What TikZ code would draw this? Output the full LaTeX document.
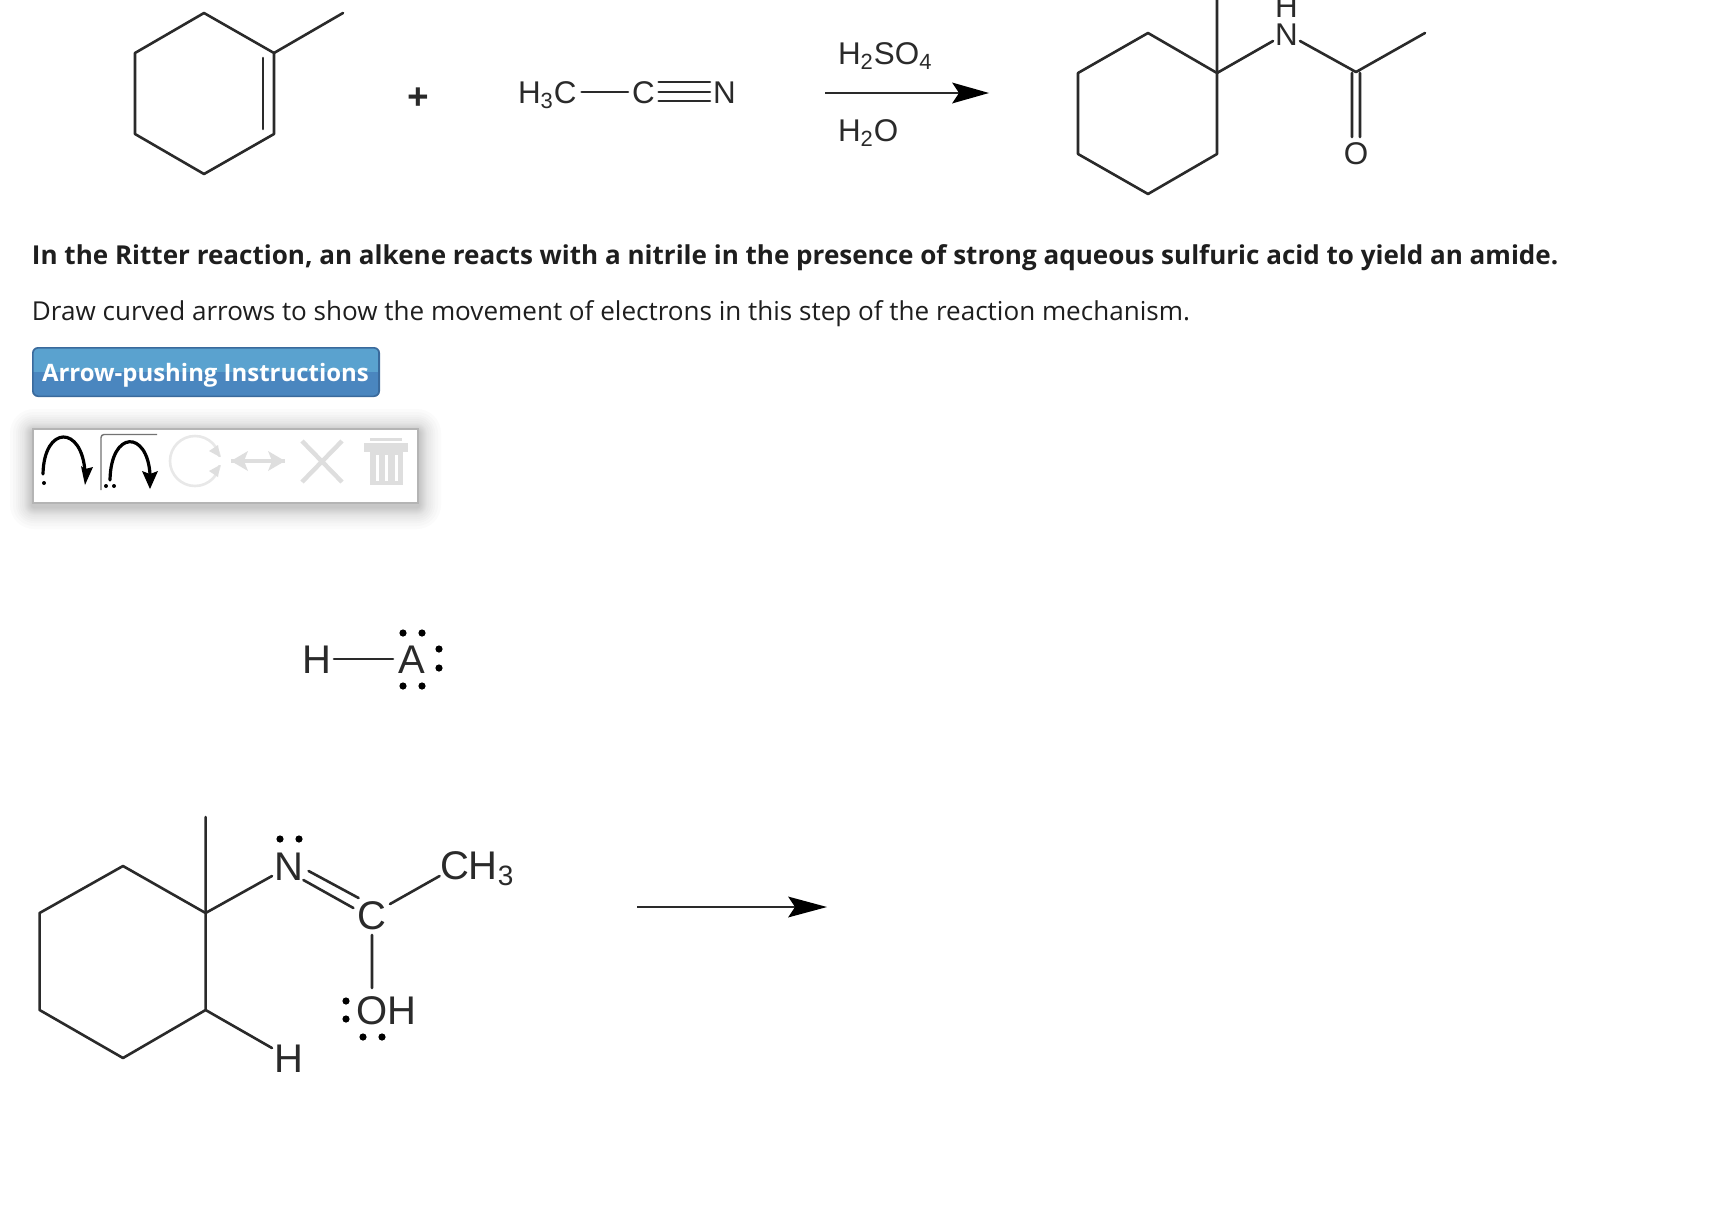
\documentclass[tikz,border=0pt]{standalone}
\usepackage{fontspec}
\setmainfont{Open Sans}
\newfontfamily\chemfont{Liberation Sans}
\usetikzlibrary{arrows.meta,calc}
\definecolor{ink}{HTML}{2A2A2A}
\definecolor{bodyink}{HTML}{1E1E1E}
\definecolor{btnTop}{HTML}{5AA2CF}
\definecolor{btnBot}{HTML}{4A86BF}
\definecolor{btnEdge}{HTML}{3A6A9C}
\definecolor{tbEdge}{HTML}{B4B4B4}
\definecolor{iconGrey}{HTML}{DEDEDE}
\tikzset{
  x=0.5pt,y=-0.5pt,
  bond/.style={draw=ink,line width=1.3pt,line cap=round,line join=round},
  chem/.style={inner sep=0pt,outer sep=0pt,text=ink,anchor=base west,font=\chemfont\fontsize{15.7}{16}\selectfont},
  chembig/.style={chem,font=\chemfont\fontsize{20}{20}\selectfont},
  lpdot/.style={fill=black,draw=none,circle,minimum size=3.6pt,inner sep=0pt},
  rxnarrow/.style={draw=ink,line width=1.4pt},
  body/.style={inner sep=0pt,outer sep=0pt,anchor=base west,text=bodyink},
  icon/.style={draw=black,line width=1.6pt,line cap=round},
  ghost/.style={draw=iconGrey,line width=2pt},
}
\newcommand{\headat}[3]{\fill[black] (#1+#3,#2) -- (#1,#2-10.5) -- (#1+7,#2) -- (#1,#2+10.5) -- cycle;}
\begin{document}
\begin{tikzpicture}
\useasboundingbox (0,0) rectangle (1728,1210);
\fill[white] (0,0) rectangle (1728,1210);

% --- alkene
\foreach \n/\px/\py in {a1/204/13,a2/274/53,a3/274/134,a4/204/174,a5/135/134,a6/135/53,a7/343/13,a8/263/58,a9/263/129}
  \coordinate (\n) at (\px,\py);
\draw[bond] (a1)--(a2)--(a3)--(a4)--(a5)--(a6)--cycle;
\draw[bond] (a2)--(a7);
\draw[bond] (a8)--(a9);
\node[inner sep=0pt,font=\fontsize{19}{19}\selectfont\bfseries,text=ink] (plus) at (418,99) {+};

% --- nitrile
\node[chem] (h3c) at (518,103) {H\textsubscript{3}C};
\node[chem] (cn) at (632,103) {C};
\node[chem] (nn) at (713,103) {N};
\draw[bond] ($(h3c.east |- 0,92)+(5,0)$) -- ($(cn.west |- 0,92)+(-4,0)$);
\foreach \dy in {82,92,101}
  \draw[bond] ($(cn.east |- 0,\dy)+(4,0)$) -- ($(nn.west |- 0,\dy)+(-3,0)$);

% --- reaction arrow
\coordinate (r1) at (825,93);
\coordinate (r2) at (960,93);
\draw[rxnarrow] (r1)--(r2);
\headat{952}{93}{37}
\node[chem] (acid) at (838,64) {H\textsubscript{2}SO\textsubscript{4}};
\node[chem] (water) at (838,141) {H\textsubscript{2}O};

% --- product
\foreach \n/\px/\py in {p1/1148/33,p2/1217/73,p3/1217/154,p4/1148/194,p5/1078/154,p6/1078/73,p7/1217/-5,p8/1273/41,p9/1300/41,p10/1356/72,p11/1425/33,p12/1352/73,p13/1352/137,p14/1360/73,p15/1360/137}
  \coordinate (\n) at (\px,\py);
\draw[bond] (p1)--(p2)--(p3)--(p4)--(p5)--(p6)--cycle;
\draw[bond] (p2)--(p7) (p2)--(p8) (p9)--(p10)--(p11) (p12)--(p13) (p14)--(p15);
\node[chem] (pN) at (1275,45) {N};
\node[chem] (pH) at (1275,18) {H};
\node[chem,anchor=base] (pO) at (1356,164) {O};

% --- paragraph
\node[body,font=\fontsize{13.02}{14}\selectfont\bfseries] (t1) at (32,264) {In the Ritter reaction, an alkene reacts with a nitrile in the presence of strong aqueous sulfuric acid to yield an amide.};
\node[body,font=\fontsize{13.03}{14}\selectfont] (t2) at (32,320) {Draw curved arrows to show the movement of electrons in this step of the reaction mechanism.};

% --- button
\fill[btnEdge,rounded corners=3pt] (32,347) rectangle (380,397);
\begin{scope}
 \clip[rounded corners=2.5pt] (33.5,348.5) rectangle (378.5,395.5);
 \fill[btnTop] (33,348) rectangle (379,372);
 \fill[btnBot] (33,372) rectangle (379,396);
\end{scope}
\node[body,text=white,font=\fontsize{11.98}{13}\selectfont\bfseries] (btn) at (42,381) {Arrow-pushing Instructions};

% --- toolbar with soft shadow
\foreach \g [evaluate=\g as \r using \g*0.5+1] in {22,19,16,14,12,10,8,7,6,5,4,3,2,1}
  \fill[black,opacity=0.015,rounded corners=\r pt] (32-\g,428-\g+3) rectangle (419+\g,504+\g+3);
\draw[draw=tbEdge,fill=white,line width=1pt] (33,429) rectangle (418,503);

% icon 1
\draw[icon] (43,474) .. controls (44,425) and (82,425) .. (85,472);
\fill[black] (85,485) -- (81,466) -- (85,469) -- (93,467) -- cycle;
\fill[black] (44,483) circle (2);
% icon 2
\draw[draw=gray!90!black,line width=0.7pt,rounded corners=1.5pt] (101,490) -- (101,434.5) -- (157,434.5);
\draw[icon] (110,480) .. controls (111,430) and (147,430) .. (150,474);
\fill[black] (150,489) -- (142,471) -- (150,474) -- (158,471) -- cycle;
\fill[black] (106,486) circle (2);
\fill[black] (114,486) circle (2);
% icon 3
\draw[draw=iconGrey!70,line width=1.3pt] (195,461) circle (25);
\fill[white] (213,457) rectangle (224,465);
\fill[iconGrey] (220,457) -- (209,451) -- (218,445) -- cycle;
\fill[iconGrey] (220,465) -- (209,471) -- (218,477) -- cycle;
% icon 4
\coordinate (d1) at (231,461);
\coordinate (d2) at (285,461);
\draw[ghost] (d1)--(d2);
\fill[iconGrey] (d1) -- (248,451) -- (244,461) -- (248,471) -- cycle;
\fill[iconGrey] (d2) -- (268,451) -- (272,461) -- (268,471) -- cycle;
% icon 5
\coordinate (x1) at (302,441);
\coordinate (x2) at (342,482);
\coordinate (x3) at (342,441);
\coordinate (x4) at (302,482);
\draw[draw=iconGrey,line width=2.2pt] (x1)--(x2) (x3)--(x4);
% icon 6
\fill[iconGrey] (370,438) rectangle (402,441);
\fill[iconGrey] (364,443) rectangle (408,452);
\fill[iconGrey] (370,452) rectangle (403,485);
\fill[white] (376,455) rectangle (379,481);
\fill[white] (385,455) rectangle (388,481);
\fill[white] (395,455) rectangle (398,481);

% --- H-A
\node[chembig] (hh) at (302,673) {H};
\node[chembig] (aa) at (398,673) {A};
\draw[bond] (334,659) coordinate (ha1) -- (393,659) coordinate (ha2);
\foreach \px/\py in {403/633,422/633,439/649,439/668,403/686,422/686}
  \node[lpdot] at (\px,\py) {};

% --- intermediate
\foreach \n/\px/\py in {i1/123/866,i2/205.6/913,i3/205.6/1010,i4/123/1058,i5/39.6/1010,i6/39.6/913,i7/205.6/817,i8/272/876,i9/272/1048,
  j1/308.6/871,j2/358.6/898,j3/303.4/880,j4/353.4/908,j5/390/904,j6/439.6/876,j7/372/935,j8/372/988}
  \coordinate (\n) at (\px,\py);
\draw[bond] (i1)--(i2)--(i3)--(i4)--(i5)--(i6)--cycle;
\draw[bond] (i2)--(i7) (i2)--(i8) (i3)--(i9) (j1)--(j2) (j3)--(j4) (j5)--(j6) (j7)--(j8);
\node[chembig] (iN) at (274,880) {N};
\node[chembig] (iC) at (357,929) {C};
\node[chembig] (iCH) at (440,879) {CH\textsubscript{3}};
\node[chembig] (iOH) at (356,1024) {OH};
\node[chembig] (iH) at (274,1072) {H};
\foreach \px/\py in {280/839,299/839,346/1001,346/1019,363/1037,382/1037}
  \node[lpdot] at (\px,\py) {};

% --- second arrow
\coordinate (s1) at (637,907);
\coordinate (s2) at (800,907);
\draw[rxnarrow] (s1)--(s2);
\headat{788}{907}{39}
\end{tikzpicture}
\end{document}
